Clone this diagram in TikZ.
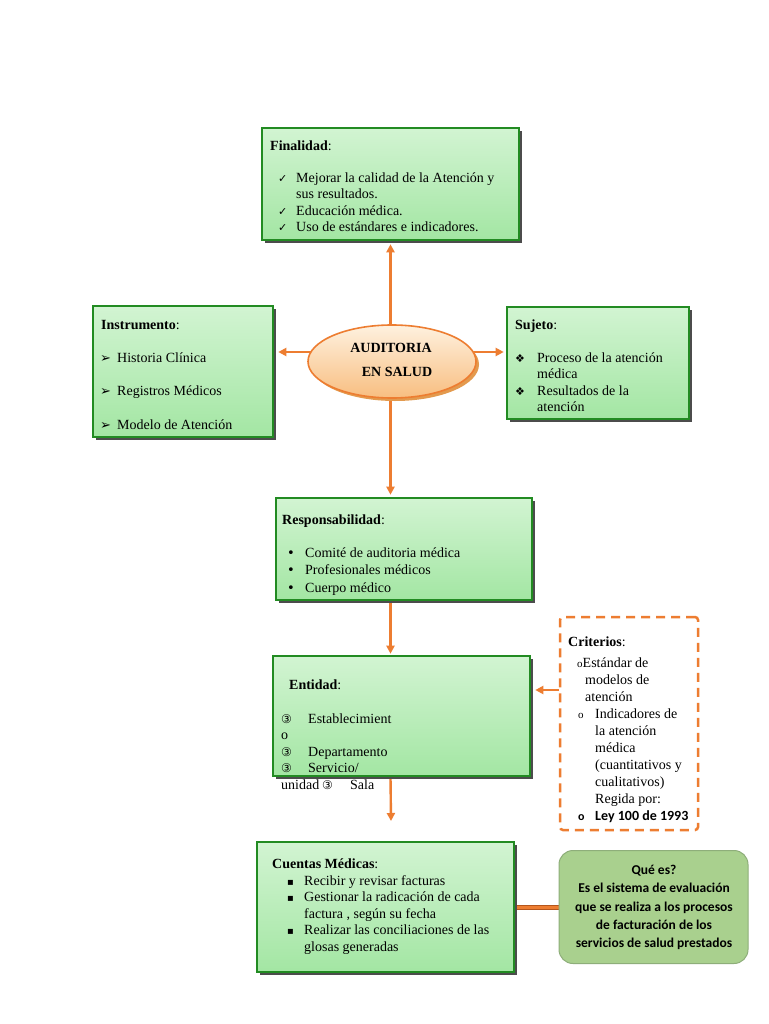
\documentclass[tikz,border=0pt]{standalone}
\usepackage{fontspec}
\setmainfont{Liberation Serif}
\newfontfamily\symf{DejaVu Sans}
\newfontfamily\calf{Carlito}
\usetikzlibrary{arrows.meta,shadows,shapes.geometric}
\definecolor{gborder}{HTML}{228B22}
\definecolor{gtop}{HTML}{D2F4D2}
\definecolor{gmid}{HTML}{F2FCF2}
\definecolor{gbot}{HTML}{A3E6A3}
\definecolor{org}{HTML}{ED7D31}
\definecolor{orgdark}{HTML}{B5561C}
\definecolor{otop}{HTML}{FEF1DF}
\definecolor{obot}{HTML}{F8BE80}
\definecolor{oshadow}{HTML}{E39A4E}
\definecolor{qfill}{HTML}{A9D08E}
\definecolor{qdraw}{HTML}{8EAE7A}
\pgfdeclarelayer{bg}
\pgfdeclarelayer{paper}
\pgfsetlayers{paper,bg,main}
\begin{document}
\begin{tikzpicture}[x=1pt,y=-1pt,
  gbox/.style={draw=gborder, line width=2.6pt, top color=gtop, middle color=gmid, bottom color=gbot,
    inner sep=0pt, drop shadow={shadow xshift=3pt, shadow yshift=-3pt, fill=black!70, opacity=1}},
  arr/.style={draw=org, line width=2.4pt, -{Triangle[length=8pt,width=8pt]}},
  t/.style={anchor=base west, inner sep=0pt, font=\fontsize{14}{16.5}\selectfont},
  s/.style={anchor=base west, inner sep=0pt, font=\symf\fontsize{11}{12}\selectfont}]
\begin{pgfonlayer}{paper}
\fill[white] (0,0) rectangle (768,1024);
\end{pgfonlayer}
\useasboundingbox (0,0) rectangle (768,1024);

% boxes
\node[gbox, minimum width=257pt, minimum height=112pt] (fin) at (390.5,184) {};
\node[gbox, minimum width=180pt, minimum height=131pt] (ins) at (183,371.5) {};
\node[gbox, minimum width=182pt, minimum height=112pt] (suj) at (598,363) {};
\node[gbox, minimum width=256pt, minimum height=102pt] (res) at (404,549) {};
\node[gbox, minimum width=257pt, minimum height=120pt] (ent) at (401.5,716) {};
\node[gbox, minimum width=257pt, minimum height=130pt] (cue) at (385.5,907) {};
\node[ellipse, draw=org, line width=1.6pt, top color=otop, bottom color=obot,
  minimum width=168pt, minimum height=73pt, inner sep=0pt,
  drop shadow={shadow xshift=3pt, shadow yshift=-3pt, fill=oshadow, opacity=1}] (ell) at (392,361.5) {};
\node[draw=org, dash pattern=on 9pt off 6pt, line width=2.5pt, rounded corners=3pt,
  minimum width=138pt, minimum height=213pt, inner sep=0pt] (cri) at (629,723.5) {};
\node[draw=qdraw, line width=1pt, fill=qfill, rounded corners=14pt,
  minimum width=189pt, minimum height=113pt, inner sep=0pt] (que) at (653.5,907) {};
\coordinate (entend) at (391,821);

% connectors
\begin{pgfonlayer}{bg}
\draw[arr, shorten >=3pt] (ell.center -| fin.south) -- (fin.south);
\draw[arr, shorten >=4pt] ([yshift=9.5pt]ell.center) -- ([yshift=9.5pt]ell.center -| ins.east);
\draw[arr, shorten >=2pt] ([yshift=9.5pt]ell.center) -- ([yshift=9.5pt]ell.center -| suj.west);
\draw[arr, shorten >=2pt] (ell.center -| fin.south) -- (fin.south |- res.north);
\draw[arr, shorten >=1pt] (fin.south |- res.south) -- (fin.south |- ent.north);
\draw[arr, shorten >=4pt] ([yshift=33.5pt]cri.west) -- ([yshift=33.5pt]cri.west -| ent.east);
\draw[arr] (fin.south |- ent.south) -- (entend);
\draw[draw=orgdark, line width=1pt, double=org, double distance=3pt] (cue.east) -- (que.west);
\end{pgfonlayer}

% ellipse text
\node[inner sep=0pt, font=\bfseries\fontsize{14}{16.5}\selectfont, anchor=base] (el1) at (391,352.5) {AUDITORIA};
\node[inner sep=0pt, font=\bfseries\fontsize{14}{16.5}\selectfont, anchor=base] (el2) at (397,376.5) {EN SALUD};

% Finalidad
\node[t] (f0) at (270,151) {\textbf{Finalidad}:};
\node[s] (f1s) at (278,182.5) {✓};
\node[t] (f1) at (296,182.5) {Mejorar la calidad de la Atención y};
\node[t] (f2) at (296,198.5) {sus resultados.};
\node[s] (f3s) at (278,215) {✓};
\node[t] (f3) at (296,215) {Educación médica.};
\node[s] (f4s) at (278,231.5) {✓};
\node[t] (f4) at (296,231.5) {Uso de estándares e indicadores.};

% Instrumento
\node[t] (i0) at (101,329) {\textbf{Instrumento}:};
\node[s, font=\symf\fontsize{13}{14}\selectfont] (i1s) at (100,362) {➢};
\node[t] (i1) at (117,362) {Historia Clínica};
\node[s, font=\symf\fontsize{13}{14}\selectfont] (i2s) at (100,395) {➢};
\node[t] (i2) at (117,395) {Registros Médicos};
\node[s, font=\symf\fontsize{13}{14}\selectfont] (i3s) at (100,429) {➢};
\node[t] (i3) at (117,429) {Modelo de Atención};

% Sujeto
\node[t] (j0) at (515,329) {\textbf{Sujeto}:};
\node[s] (j1s) at (515,362) {❖};
\node[t] (j1) at (537,362) {Proceso de la atención};
\node[t] (j2) at (537,378.5) {médica};
\node[s] (j3s) at (515,395) {❖};
\node[t] (j3) at (537,395) {Resultados de la};
\node[t] (j4) at (537,411.5) {atención};

% Responsabilidad
\node[t] (r0) at (282,524) {\textbf{Responsabilidad}:};
\node[s, font=\symf\fontsize{13}{14}\selectfont] (r1s) at (287,557) {•};
\node[t] (r1) at (305,557) {Comité de auditoria médica};
\node[s, font=\symf\fontsize{13}{14}\selectfont] (r2s) at (287,574.5) {•};
\node[t] (r2) at (305,574.5) {Profesionales médicos};
\node[s, font=\symf\fontsize{13}{14}\selectfont] (r3s) at (287,592.5) {•};
\node[t] (r3) at (305,592.5) {Cuerpo médico};

% Entidad
\node[t] (e0) at (289,689.5) {\textbf{Entidad}:};
\node[s, font=\symf\fontsize{12}{12}\selectfont] (e1s) at (281,723) {③};
\node[t] (e1) at (308,723) {Establecimient};
\node[t] (e2) at (281,739.5) {o};
\node[s, font=\symf\fontsize{12}{12}\selectfont] (e3s) at (281,756) {③};
\node[t] (e3) at (308,756) {Departamento};
\node[s, font=\symf\fontsize{12}{12}\selectfont] (e4s) at (281,772.5) {③};
\node[t] (e4) at (308,772.5) {Servicio/};
\node[t] (e5) at (281,789.5) {unidad};
\node[s, font=\symf\fontsize{12}{12}\selectfont] (e5s) at (322,789.5) {③};
\node[t] (e6) at (350,789.5) {Sala};

% Criterios
\node[t] (c0) at (568,646) {\textbf{Criterios}:};
\node[t] (c1) at (577,667.5) {\fontsize{11}{12}\selectfont o\fontsize{14}{16.5}\selectfont Estándar de};
\node[t] (c2) at (585,684.5) {modelos de};
\node[t] (c3) at (585,701.5) {atención};
\node[t] (c4o) at (578,718.5) {\fontsize{11}{12}\selectfont o};
\node[t] (c4) at (595,718.5) {Indicadores de};
\node[t] (c5) at (595,735.5) {la atención};
\node[t] (c6) at (595,752) {médica};
\node[t] (c7) at (595,769.5) {(cuantitativos y};
\node[t] (c8) at (595,786) {cualitativos)};
\node[t] (c9) at (595,803) {Regida por:};
\node[t, font=\calf\bfseries\fontsize{12}{14}\selectfont] (c10o) at (578,820) {o};
\node[t, font=\calf\bfseries\fontsize{14}{16}\selectfont] (c10) at (595,820) {Ley 100 de 1993};

% Cuentas Medicas
\node[t] (m0) at (272,868) {\textbf{Cuentas Médicas}:};
\node[s, font=\symf\fontsize{10}{12}\selectfont] (m1s) at (287,885) {▪};
\node[t] (m1) at (304,885) {Recibir y revisar facturas};
\node[s, font=\symf\fontsize{10}{12}\selectfont] (m2s) at (287,901.5) {▪};
\node[t] (m2) at (304,901.5) {Gestionar la radicación de cada};
\node[t] (m3) at (304,918) {factura , según su fecha};
\node[s, font=\symf\fontsize{10}{12}\selectfont] (m4s) at (287,934.5) {▪};
\node[t] (m4) at (304,934.5) {Realizar las conciliaciones de las};
\node[t] (m5) at (304,951) {glosas generadas};

% Que es
\node[inner sep=0pt, align=center, font=\calf\bfseries\fontsize{13.5}{18.2}\selectfont] (qt) at (654,907.5) {Qué es?\\Es el sistema de evaluación\\que se realiza a los procesos\\de facturación de los\\servicios de salud prestados};
\end{tikzpicture}
\end{document}
